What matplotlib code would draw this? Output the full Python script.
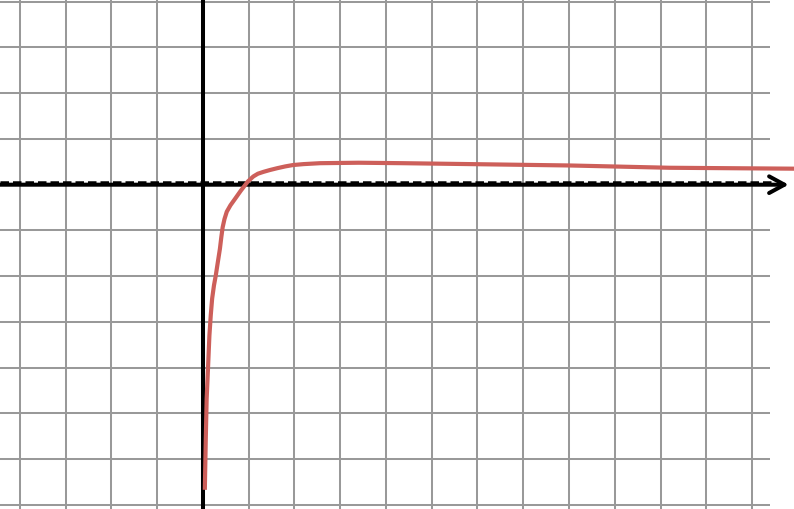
import matplotlib
matplotlib.use("Agg")
import matplotlib.pyplot as plt

# curve (grid units)
curve_x = [0.04, 0.06, 0.08, 0.11, 0.14, 0.17, 0.20, 0.24, 0.28, 0.32, 0.37, 0.40, 0.43,
           0.47, 0.52, 0.60, 0.70, 0.82, 0.98, 1.10, 1.20, 1.32, 1.46, 1.62, 1.80,
           1.97, 2.20, 2.56, 3.40, 4.37, 5.84, 8.02, 10.2, 12.92]
curve_y = [-6.67, -5.60, -4.68, -4.00, -3.30, -2.85, -2.49, -2.20, -1.98, -1.72, -1.40,
           -1.15, -0.93, -0.75, -0.59, -0.45, -0.31, -0.14, 0.07, 0.18, 0.24, 0.28, 0.32,
           0.36, 0.40, 0.43, 0.45, 0.47, 0.48, 0.47, 0.45, 0.42, 0.37, 0.35]

grid_x = list(range(-4, 13))
grid_y = list(range(-7, 5))

x_min, x_max = -4.437, 12.918
y_min, y_max = -7.089, 4.059

fig = plt.figure(figsize=(7.94, 5.10), dpi=100)
ax = fig.add_axes([0, 0, 1, 1])
ax.set_xlim(x_min, x_max)
ax.set_ylim(y_min, y_max)
ax.axis("off")

grid_clr = "#999999"
ax.vlines(grid_x, y_min, y_max, color=grid_clr, lw=1.45, zorder=1)
ax.hlines(grid_y, x_min, 12.4, color=grid_clr, lw=1.45, zorder=1)

# axes
ax.axvline(0, color="black", lw=2.9, zorder=3)
ax.plot([x_min, 12.5], [0.066, 0.066], color="black", lw=1.8,
        dashes=(3.4, 1.6), zorder=3)
ax.annotate("", xy=(12.8, 0), xytext=(x_min - 0.1, 0),
            arrowprops=dict(arrowstyle="->,head_length=1.1,head_width=0.6",
                            lw=2.9, color="black", shrinkA=0, shrinkB=0),
            zorder=3)

ax.plot(curve_x, curve_y, color="#cd5f5a", lw=3, solid_capstyle="butt",
        solid_joinstyle="round", zorder=5)

fig.savefig("out.png", dpi=100)
